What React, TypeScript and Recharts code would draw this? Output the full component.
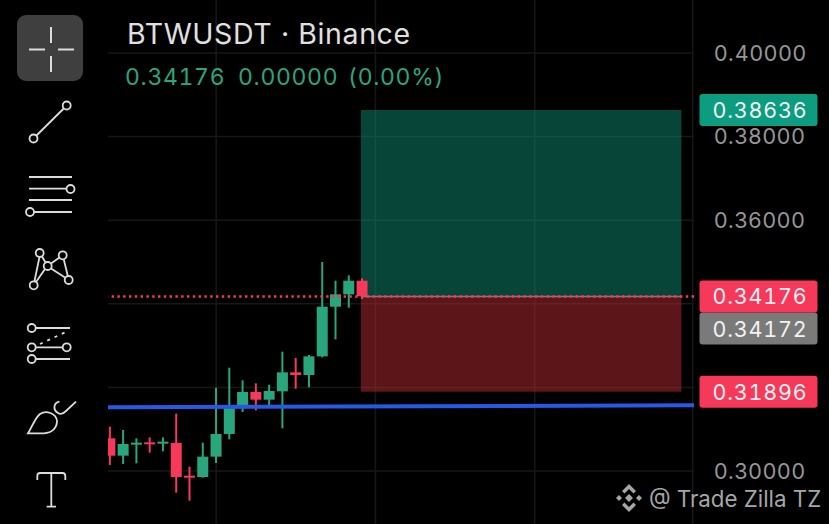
import React from 'react';
import { ComposedChart, Bar, XAxis, YAxis, CartesianGrid, ReferenceArea, ReferenceLine } from 'recharts';

// candles, oldest first
const opens = [0.30782, 0.30367, 0.30654, 0.30686, 0.3067, 0.3067, 0.29888, 0.29856, 0.30343, 0.30885, 0.31555, 0.3189, 0.31706, 0.31906, 0.3236, 0.32297, 0.32743, 0.33931, 0.34226, 0.34553];
const highs = [0.3106, 0.30981, 0.30781, 0.30805, 0.30805, 0.31372, 0.30104, 0.30678, 0.31994, 0.32472, 0.32169, 0.32097, 0.32065, 0.32855, 0.32703, 0.32775, 0.35, 0.34553, 0.34681, 0.34609];
const lows = [0.30144, 0.30167, 0.30183, 0.30439, 0.3047, 0.29482, 0.2929, 0.2984, 0.30191, 0.30757, 0.31411, 0.31451, 0.31555, 0.31021, 0.3197, 0.32002, 0.32719, 0.3315, 0.33907, 0.34115];
const closes = [0.30366, 0.30646, 0.30678, 0.30654, 0.30702, 0.29856, 0.29848, 0.30343, 0.30885, 0.31555, 0.3189, 0.31706, 0.31914, 0.3236, 0.32297, 0.32743, 0.33931, 0.34226, 0.34553, 0.34179];

const priceTicks = [0.4, 0.38, 0.36, 0.3];
const gridPrices = [0.4, 0.38, 0.36, 0.34, 0.32, 0.3];
const gridBars = [8, 20, 32, 43.9];

const target = 0.38636;
const entry = 0.34176;
const stop = 0.31896;
const boxStart = 18.9;
const boxEnd = 43.05;
const trendStart = { x: -0.15, y: 0.31524 };
const trendEnd = { x: 44, y: 0.31571 };

const UP = '#2aa67e';
const DOWN = '#f6395a';
const ICON = '#dcdcdc';

const candles = opens.map((open, i) => ({
  i,
  open,
  close: closes[i],
  range: [lows[i], highs[i]],
}));

const Candle = (props: any) => {
  const { x, y, width, height, payload } = props;
  const top = payload.range[1];
  const perUnit = height / (top - payload.range[0]);
  const color = payload.close >= payload.open ? UP : DOWN;
  const bodyTop = y + (top - Math.max(payload.open, payload.close)) * perUnit;
  const bodyHeight = Math.max(Math.abs(payload.open - payload.close) * perUnit, 2);
  return (
    <g>
      <rect x={x + width / 2 - 1} y={y} width={2} height={height} fill={color} />
      <rect x={x} y={bodyTop} width={width} height={bodyHeight} fill={color} />
    </g>
  );
};

const pill = (text: string, color: string, shift = 0) => (props: any) => {
  const { viewBox } = props;
  const cy = viewBox.y + shift;
  const left = viewBox.x + viewBox.width + 5.5;
  return (
    <g>
      <rect x={left} y={cy - 16} width={118} height={32} rx={3} fill={color} />
      <text x={left + 60.5} y={cy + 8} textAnchor="middle" fill="#f2f2f2" fontSize={21.5} letterSpacing={0.8} fontFamily="Inter" style={{ fontVariantNumeric: 'tabular-nums' }}>
        {text}
      </text>
    </g>
  );
};

const Toolbar = () => (
  <svg width={100} height={524} style={{ position: 'absolute', left: 0, top: 0 }} fill="none" stroke={ICON} strokeWidth={1.8}>
    <rect x={17} y={15} width={66} height={66} rx={9} fill="#3f3f3f" stroke="none" />
    <path d="M51 27V43M51 56V72M29 49.5H45M58 49.5H74" strokeWidth={2} />
    <circle cx={33.5} cy={138.5} r={4} />
    <circle cx={66.7} cy={105.5} r={4} />
    <path d="M36.5 135.5L63.7 108.5" />
    <path d="M29 177H72M29 188.7H66M29 200H72M34 212H72" />
    <circle cx={70.5} cy={189} r={4} />
    <circle cx={30} cy={212} r={4} />
    <path d="M34.5 281L39.5 257M42 256.5L45.5 262.5M51 263.5L59.5 257.5M63.7 259L67.8 276M36 282L45 269M51 268.5L65 277.5" />
    <circle cx={39.7} cy={253} r={4} />
    <circle cx={62.7} cy={255.3} r={4} />
    <circle cx={33.7} cy={285.3} r={4} />
    <circle cx={47.7} cy={266} r={4} />
    <circle cx={68.7} cy={280} r={4} />
    <circle cx={31.7} cy={328} r={4} />
    <circle cx={31.7} cy={347.3} r={4} />
    <circle cx={66.7} cy={347.3} r={4} />
    <circle cx={31.7} cy={359} r={4} />
    <path d="M36 328H70M36 347.3H62.5M36 359H70" />
    <path d="M40 344L68 331" strokeDasharray="3 5" />
    <path d="M28 433.3C32 427 35 418 40 414C46 410 56 413 57 421C57 428 52 433 44 433.3Z" />
    <path d="M59.5 401.7C53 403 53 410 58 413C61 415 64 413 66 411L76 401.7" />
    <path d="M37.3 480V476Q37.3 473 40 473H62.5Q65.3 473 65.3 476V480M51.3 473V506.7M46.7 506.7H56" />
  </svg>
);

const Watermark = () => (
  <div style={{ position: 'absolute', left: 614, top: 483, height: 30, display: 'flex', alignItems: 'center', color: '#a6a6a6', fontFamily: 'Inter', fontSize: 22.3 }}>
    <svg width={30} height={30} style={{ marginRight: 5 }} fill="#a6a6a6">
      <path d="M15 11L19 15L15 19L11 15Z" />
      <path d="M15 1L22 8L19.5 10.5L15 6L10.5 10.5L8 8Z" />
      <path d="M15 29L22 22L19.5 19.5L15 24L10.5 19.5L8 22Z" />
      <path d="M5 12L8 15L5 18L2 15Z" />
      <path d="M25 12L28 15L25 18L22 15Z" />
    </svg>
    <span>@ Trade Zilla TZ</span>
  </div>
);

const quote = { position: 'absolute', top: 63, color: UP, fontFamily: 'Inter', fontSize: 23, letterSpacing: 0.65, fontVariantNumeric: 'tabular-nums' } as React.CSSProperties;

export default function App() {
  return (
    <div style={{ position: 'absolute', left: 0, top: 0, width: 829, height: 524, background: '#000', overflow: 'hidden' }}>
      <ComposedChart width={829} height={524} data={candles} margin={{ top: 0, right: 0, bottom: 0, left: 108 }}>
        <CartesianGrid stroke="#171717" strokeWidth={1.5} horizontalValues={gridPrices} verticalValues={gridBars} />
        <XAxis type="number" dataKey="i" domain={[-0.15, 44]} allowDataOverflow hide />
        <YAxis
          orientation="right"
          width={135}
          domain={[0.28732, 0.41268]}
          ticks={priceTicks}
          allowDataOverflow
          interval={0}
          axisLine={false}
          tickLine={false}
          tickMargin={14}
          tickFormatter={(v: number) => v.toFixed(5)}
          tick={{ fill: '#969696', fontSize: 21.5, fontFamily: 'Inter', letterSpacing: 0.8 }}
        />
        <ReferenceArea x1={boxStart} x2={boxEnd} y1={entry} y2={target} fill="#0d8a70" fillOpacity={0.5} stroke="none" />
        <ReferenceArea x1={boxStart} x2={boxEnd} y1={stop} y2={entry} fill="#b82a32" fillOpacity={0.5} stroke="none" />
        <ReferenceLine segment={[trendStart, trendEnd]} stroke="#2659e6" strokeWidth={4} />
        <Bar dataKey="range" barSize={11} shape={Candle} isAnimationActive={false} />
        <ReferenceLine segment={[{ x: boxStart, y: entry }, { x: boxEnd, y: entry }]} stroke="#7b7f74" strokeWidth={1.5} />
        <ReferenceLine y={entry} stroke={DOWN} strokeWidth={2.4} strokeDasharray="2.4 3.4" />
        <ReferenceLine y={target} stroke="none" label={pill('0.38636', '#0c9c80')} />
        <ReferenceLine y={0.34172} stroke="none" label={pill('0.34172', '#7a7a7a', 32)} />
        <ReferenceLine y={entry} stroke="none" label={pill('0.34176', DOWN)} />
        <ReferenceLine y={stop} stroke="none" label={pill('0.31896', DOWN)} />
      </ComposedChart>
      <Toolbar />
      <div style={{ position: 'absolute', left: 127, top: 16, color: '#e0e0e0', fontFamily: 'Inter', fontSize: 28.5, letterSpacing: 0.6 }}>BTWUSDT · Binance</div>
      <span style={{ ...quote, left: 125 }}>0.34176</span>
      <span style={{ ...quote, left: 238 }}>0.00000</span>
      <span style={{ ...quote, left: 348 }}>(0.00%)</span>
      <Watermark />
    </div>
  );
}
